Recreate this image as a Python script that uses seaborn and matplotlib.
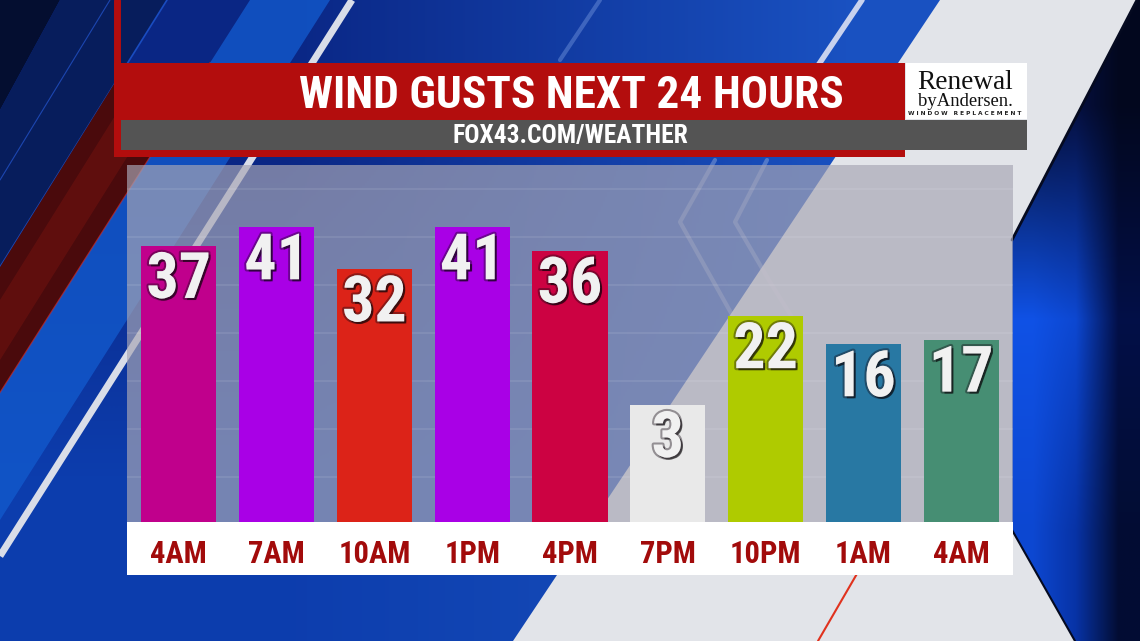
import numpy as np
import pandas as pd
import seaborn as sns
import matplotlib.pyplot as plt
from matplotlib import font_manager, patheffects
from matplotlib.patches import Rectangle, Polygon

hours = ["4AM", "7AM", "10AM", "1PM", "4PM", "7PM", "10PM", "1AM", "4AM"]
gusts = [37, 41, 32, 41, 36, 3, 22, 16, 17]
bar_colors = ["#c0008c", "#a900e6", "#dc2318", "#a900e6", "#cc0242",
              "#e9e9e9", "#afcb00", "#2878a3", "#468e73"]

title = "WIND GUSTS NEXT 24 HOURS"
subtitle = "FOX43.COM/WEATHER"

sns.set_theme(style="white")
names = {f.name for f in font_manager.fontManager.ttflist}
cands = ["Roboto Condensed", "Liberation Sans Narrow", "Open Sans Condensed", "DejaVu Sans"]
cond = next(c for c in cands if c in names)
narrow = cond != "DejaVu Sans"
plt.rcParams['font.family'] = [cond, 'DejaVu Sans']

W, H = 1140, 641
fig = plt.figure(figsize=(11.4, 6.41), dpi=100)

# ---- background (pixel coords) ----
bg = fig.add_axes([0, 0, 1, 1])
bg.set_xlim(0, W)
bg.set_ylim(H, 0)
bg.axis('off')
grad = np.array([[[0.04, 0.15, 0.52], [0.10, 0.32, 0.76]],
                 [[0.05, 0.24, 0.68], [0.10, 0.32, 0.74]]])
bg.imshow(grad, extent=(0, W, H, 0), interpolation='bilinear', aspect='auto', zorder=0)
# navy corner, dark red band, bright blue strip on the left
bg.add_patch(Polygon([(0, 0), (60, 0), (0, 110)], color="#040e30", lw=0, zorder=1))
bg.add_patch(Polygon([(0, 110), (60, 0), (167, 0), (0, 267)], color="#071d5c", lw=0, zorder=1))
bg.plot([167, 0], [0, 267], color="#1a4cc0", lw=1.2, zorder=1)
bg.plot([110, 0], [0, 180], color="#1c46b0", lw=0.8, zorder=1)
bg.add_patch(Polygon([(0, 267), (127, 63), (210, 63), (0, 393)], color="#4a0a0c", lw=0, zorder=1))
bg.add_patch(Polygon([(0, 300), (148, 63), (186, 63), (0, 360)],
                     color="#7a1510", alpha=0.45, lw=0, zorder=1))
bg.plot([210, 0], [63, 393], color="#b8201a", lw=1.2, zorder=1)
bg.add_patch(Polygon([(0, 393), (250, 0), (330, 0), (0, 520)], color="#1259cc", alpha=0.8,
                     lw=0, zorder=1))
bg.plot([352, 0], [0, 556], color="#d9dde8", lw=5, zorder=2, solid_capstyle='butt')
bg.plot([862, 815], [0, 70], color="#c8d2ee", lw=4, zorder=2)
bg.plot([600, 560], [0, 60], color="#5c80d0", lw=3, zorder=2, alpha=0.6)
# light diagonal area
bg.add_patch(Polygon([(940, 0), (1137, 0), (1012, 240), (1012, 530), (1075, 641), (513, 641)],
                     color="#e2e4e9", lw=0, zorder=2))
# faint chevrons seen through the panel
bg.plot([715, 680, 735, 770], [160, 222, 320, 390], color="white", alpha=0.25, lw=3, zorder=2)
bg.plot([767, 735, 770, 800], [160, 222, 282, 330], color="white", alpha=0.25, lw=3, zorder=2)
# cloudy blue wedge on the right
cloud = Polygon([(1137, 0), (1140, 0), (1140, 641), (1075, 641), (1012, 530), (1012, 240)],
                lw=0, facecolor='none', zorder=3)
bg.add_patch(cloud)
cg = np.array([[[0.02, 0.05, 0.20], [0.02, 0.06, 0.25], [0.01, 0.03, 0.12]],
               [[0.06, 0.32, 0.90], [0.05, 0.28, 0.82], [0.01, 0.06, 0.28]],
               [[0.05, 0.28, 0.82], [0.03, 0.20, 0.65], [0.01, 0.05, 0.20]]])
im = bg.imshow(cg, extent=(1012, W, H, 0), interpolation='bilinear', aspect='auto', zorder=3)
im.set_clip_path(cloud)
bg.plot([1137, 1012], [0, 240], color="#050a20", lw=2, zorder=3)
bg.plot([1012, 1075], [530, 641], color="#050a20", lw=1.5, zorder=3)
bg.plot([818, 858], [641, 572], color="#e0321e", lw=1.5, zorder=3)

# ---- header ----
bg.plot([117, 117], [0, 64], color="#b30d0d", lw=5, zorder=4)
bg.add_patch(Rectangle((114, 63), 791, 94, color="#b30d0d", lw=0, zorder=4))
bg.add_patch(Rectangle((121, 120), 906, 30, color="#545454", lw=0, zorder=5))
bg.add_patch(Rectangle((906, 63), 121, 56, color="white", lw=0, zorder=5))
t1 = bg.text(571, 108, title, color="white", fontsize=38, fontweight='bold',
             fontstretch='condensed', ha='center', va='baseline', zorder=6)
t2 = bg.text(570, 143, subtitle, color="white", fontsize=19, fontweight='bold',
             fontstretch='condensed', ha='center', va='baseline', zorder=6)
l1 = bg.text(965, 89, "Renewal", color="#111111", fontsize=22, family="Liberation Serif",
             ha='center', va='baseline', zorder=6)
l2 = bg.text(965, 106, "byAndersen.", color="#111111", fontsize=16, family="Liberation Serif",
             ha='center', va='baseline', zorder=6)
bg.text(965, 115, "W I N D O W   R E P L A C E M E N T", color="#222222", fontsize=4.2,
        fontweight='bold', family="DejaVu Sans", ha='center', va='baseline', zorder=6)

# white label band under the bars
bg.add_patch(Rectangle((127, 522), 886, 53, color="white", lw=0, zorder=6))

# ---- bars ----
ax = fig.add_axes([127 / W, (H - 522) / H, 886 / W, 357 / H])
df = pd.DataFrame({'slot': [f"{h}_{i}" for i, h in enumerate(hours)], 'gust': gusts})
sns.barplot(data=df, x='slot', y='gust', hue='slot', palette=dict(zip(df.slot, bar_colors)),
            width=0.77, saturation=1, legend=False, linewidth=0, ax=ax)

# the graphic's bars start below zero
FLOOR, TOP = -22, 54.3
for p in ax.patches:
    top = p.get_y() + p.get_height()
    p.set_y(FLOOR)
    p.set_height(top - FLOOR)

ax.set_xlim(-0.53, 8.53)
ax.set_ylim(FLOOR, TOP)
ax.set_facecolor((0.66, 0.65, 0.71, 0.68))
ax.set_yticks(np.arange(-12.4, 52, 10.26))
ax.set_yticklabels([])
ax.grid(axis='y', color='white', alpha=0.10, lw=1.2)
ax.set_axisbelow(True)
ax.set_xticks(range(len(hours)))
ax.set_xticklabels(hours, color="#a20b0b", fontsize=22 if narrow else 20,
                   fontweight='bold', fontstretch='condensed')
ax.tick_params(axis='x', length=0, pad=12)
ax.tick_params(axis='y', length=0)
ax.set_xlabel('')
ax.set_ylabel('')
for s in ax.spines.values():
    s.set_visible(False)

shadow = [patheffects.SimplePatchShadow(offset=(1.5, -1.5), shadow_rgbFace='black', alpha=0.6),
          patheffects.Stroke(linewidth=3, foreground=(0.08, 0.04, 0.08, 0.4)),
          patheffects.Normal()]
for i, v in enumerate(gusts):
    ax.annotate(str(v), xy=(i, v), xytext=(0, -52 * 0.72), textcoords='offset points',
                ha='center', va='baseline', color="#f1f1f1", fontweight='bold',
                fontstretch='condensed', fontsize=46 if narrow else 39, path_effects=shadow)

# squeeze header texts to their widths in the graphic
r = fig.canvas.get_renderer()
for t, wpx in [(t1, 545), (t2, 236), (l1, 95), (l2, 95)]:
    w = t.get_window_extent(r).width
    if w > wpx:
        t.set_fontsize(t.get_fontsize() * wpx / w)

fig.savefig("out.png", dpi=100)
